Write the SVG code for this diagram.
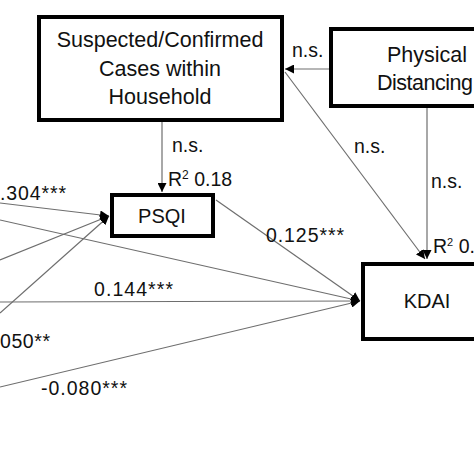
<svg xmlns="http://www.w3.org/2000/svg" width="474" height="474" viewBox="0 0 474 474">
<style>
.box{fill:#fff;stroke:#000;stroke-width:4}
.t{font-family:"Liberation Sans",Arial,sans-serif;font-size:21.5px;fill:#111;text-anchor:middle}
.k{font-family:"Liberation Sans",Arial,sans-serif;font-size:20px;fill:#111;text-anchor:middle}
.l{font-family:"Liberation Sans",Arial,sans-serif;font-size:19.5px;fill:#111}
.c{stroke:#6e6e6e;stroke-width:1.2;fill:none}
</style>
<defs>
<marker id="ah" viewBox="0 0 10 10" refX="10" refY="5" markerWidth="9" markerHeight="9" markerUnits="userSpaceOnUse" orient="auto">
<path d="M0,0 L10,5 L0,10 z" fill="#000"/>
</marker>
</defs>
<rect x="0" y="0" width="474" height="474" fill="#fff"/>
<g id="connectors">
<line class="c" x1="329" y1="69" x2="285" y2="69" marker-end="url(#ah)"/>
<line class="c" x1="285" y1="72" x2="425" y2="259" marker-end="url(#ah)"/>
<line class="c" x1="427" y1="108" x2="427" y2="259" marker-end="url(#ah)"/>
<line class="c" x1="162" y1="122" x2="162" y2="192" marker-end="url(#ah)"/>
<line class="c" x1="0" y1="203" x2="109" y2="216" marker-end="url(#ah)"/>
<line class="c" x1="0" y1="260" x2="109" y2="216" marker-end="url(#ah)"/>
<line class="c" x1="0" y1="313" x2="109" y2="216" marker-end="url(#ah)"/>
<line class="c" x1="0" y1="220" x2="360" y2="301" marker-end="url(#ah)"/>
<line class="c" x1="0" y1="302" x2="360" y2="301" marker-end="url(#ah)"/>
<line class="c" x1="0" y1="387" x2="360" y2="301" marker-end="url(#ah)"/>
<line class="c" x1="216" y1="200" x2="360" y2="301" marker-end="url(#ah)"/>
</g>
<g id="labels">
<text class="l" x="292" y="57">n.s.</text>
<text class="l" x="354" y="153">n.s.</text>
<text class="l" x="431" y="188">n.s.</text>
<text class="l" x="172" y="152">n.s.</text>
<text class="l" x="168" y="186">R<tspan font-size="12" dy="-7">2</tspan><tspan dy="7"> 0.18</tspan></text>
<text class="l" x="433" y="253" font-size="18.5">R<tspan font-size="11" dy="-7">2</tspan><tspan dy="7"> 0.</tspan></text>
<text class="l" x="0" y="200" textLength="66">.304***</text>
<text class="l" x="266" y="242" textLength="78">0.125***</text>
<text class="l" x="94" y="296" textLength="79">0.144***</text>
<text class="l" x="0" y="348" textLength="50">050**</text>
<text class="l" x="41" y="395" textLength="86">-0.080***</text>
</g>
<g id="node-household">
<rect class="box" x="39" y="17" width="243" height="103"/>
<text class="t" x="160" y="47">Suspected/Confirmed</text>
<text class="t" x="160" y="76">Cases within</text>
<text class="t" x="160" y="104">Household</text>
</g>
<g id="node-distancing">
<rect class="box" x="331" y="29" width="192" height="77"/>
<text class="t" x="427" y="62">Physical</text>
<text class="t" x="377" y="90" style="text-anchor:start" textLength="96">Distancing</text>
</g>
<g id="node-psqi">
<rect class="box" x="112" y="195" width="101" height="41"/>
<text class="k" x="162" y="223">PSQI</text>
</g>
<g id="node-kdai">
<rect class="box" x="363" y="264" width="128" height="75"/>
<text class="k" x="427" y="308">KDAI</text>
</g>
</svg>
